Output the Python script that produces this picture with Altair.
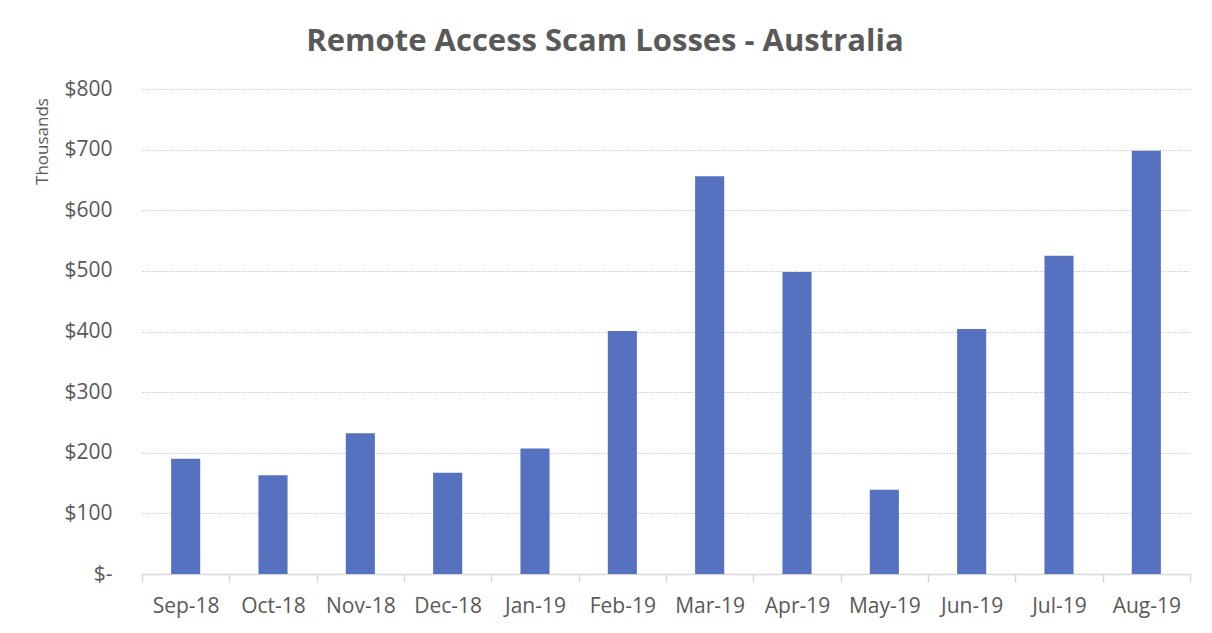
import altair as alt
import pandas as pd

months = ["Sep-18", "Oct-18", "Nov-18", "Dec-18", "Jan-19", "Feb-19",
          "Mar-19", "Apr-19", "May-19", "Jun-19", "Jul-19", "Aug-19"]
losses = [190, 163, 232, 167, 207, 401, 656, 498, 139, 404, 525, 698]
y_ticks = [0, 100, 200, 300, 400, 500, 600, 700, 800]

df = pd.DataFrame({"month": months, "loss": losses})

FONT = "Open Sans"
GREY = "#595959"

chart = alt.Chart(df).mark_bar(color="#5571C0", width=alt.RelativeBandSize(0.333)).encode(
    x=alt.X(
        "month:N", sort=months,
        scale=alt.Scale(paddingInner=0, paddingOuter=0),
        axis=alt.Axis(title=None, labelAngle=0, tickBand="extent",
                      domainColor="#D9D9D9", domainWidth=1.5,
                      tickColor="#D9D9D9", tickWidth=1.5, tickSize=8,
                      labelPadding=13, labelFontSize=21, labelColor=GREY,
                      labelFont=FONT, grid=False),
    ),
    y=alt.Y(
        "loss:Q", scale=alt.Scale(domain=[0, 800]),
        axis=alt.Axis(values=y_ticks,
                      labelExpr="datum.value == 0 ? '$-\u00a0\u00a0\u00a0' : '$' + datum.value",
                      domain=False, ticks=False, gridDash=[1.5, 1.5],
                      gridColor="#C8C8C8", labelPadding=30, labelFontSize=21,
                      labelColor=GREY, labelFont=FONT,
                      title="Thousands", titleX=-95, titleY=52, titleAngle=-90,
                      titleAlign="center", titleBaseline="alphabetic",
                      titleFontWeight="normal", titleFontSize=17,
                      titleColor=GREY, titleFont=FONT),
    ),
).properties(
    width=1048, height=485,
    padding={"left": 134, "top": 81, "right": 14, "bottom": 45},
    autosize=alt.AutoSizeParams(type="none"),
    title=alt.Title("Remote Access Scam Losses - Australia", anchor="middle",
                    dx=-61, dy=41, offset=37, baseline="alphabetic", fontSize=31,
                    font=FONT, fontWeight="bold", color=GREY),
).configure_view(stroke=None)

chart.save("out.html", embed_options={"renderer": "svg", "actions": False})
